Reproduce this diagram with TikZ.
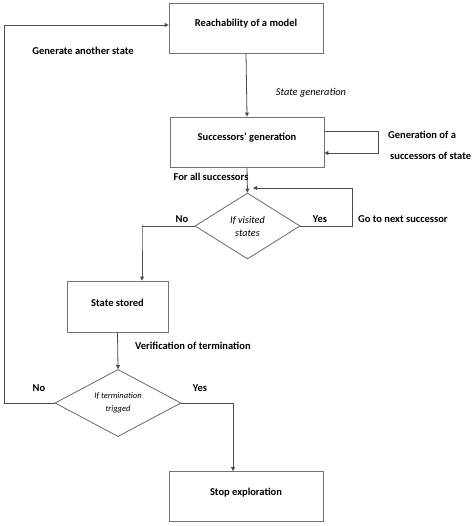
\documentclass[tikz,border=0pt]{standalone}
\usepackage{fontspec}
\setmainfont{Carlito}
\usetikzlibrary{arrows.meta,shapes.geometric}
\begin{document}
\begin{tikzpicture}[x=1pt,y=-1pt,
  font=\fontsize{10.5}{12}\selectfont\bfseries,
  boxnode/.style={draw=black!55,line width=0.8pt,minimum width=154pt,minimum height=50pt,inner sep=0pt},
  dia/.style={diamond,draw=black!65,line width=0.7pt,inner sep=0pt,font=\fontsize{10.2}{13}\selectfont\itshape,align=center},
  conn/.style={draw=black!70,line width=0.8pt},
  arr/.style={conn,-{Triangle[length=4pt,width=4pt]}},
  lbl/.style={inner sep=0pt}]
\useasboundingbox (0,0) rectangle (474,526);
\node[boxnode] (b1) at (246,28) {\raisebox{4pt}[\height][\depth]{Reachability of a model}};
\node[boxnode] (b2) at (247,142) {\raisebox{4pt}[\height][\depth]{Successors’ generation}};
\node[dia,minimum width=105pt,minimum height=66pt] (d1) at (247.5,226) {If visited\\states};
\node[boxnode,minimum width=101pt,minimum height=51pt] (b3) at (117.5,306.5) {\raisebox{4pt}[\height][\depth]{State stored}};
\node[dia,minimum width=126pt,minimum height=60pt,font=\fontsize{8.5}{12.5}\selectfont\itshape] (d2) at (118,403) {If termination\\trigged};
\node[boxnode] (b4) at (246,496.5) {\raisebox{4pt}[\height][\depth]{Stop exploration}};

\coordinate (loopR) at (378,131);
\coordinate (yesR) at (352,188);
\coordinate (noL) at (142,225);
\coordinate (backL) at (4,403);
\coordinate (stopR) at (233,403);

\draw[arr] (b1.south) -- (b2.north);
\draw[arr] ([yshift=11pt]b2.east) -- (loopR) |- ([yshift=-11pt]b2.east);
\draw[arr] (b2.south) -- (d1.north);
\draw[arr] (d1.east) -| (yesR) -- ([xshift=5.5pt]d1.north |- yesR);
\draw[arr] (d1.west) -| (noL) -- (noL |- b3.north);
\draw[arr] (b3.south) -- (d2.north);
\draw[arr] (d2.west) -- (backL) |- ([yshift=3pt]b1.west);
\draw[arr] (d2.east) -- (stopR) -- (stopR |- b4.north);

\node[lbl] (t1) at (83,51) {Generate another state};
\node[lbl,font=\fontsize{10.4}{12}\selectfont\itshape] (t2) at (311,93) {State generation};
\node[lbl,anchor=west] (t3) at (388,135) {Generation of a};
\node[lbl,anchor=west] (t4) at (390,156) {successors of state};
\node[lbl] (t5) at (211,177) {For all successors};
\node[lbl] (t6) at (182,219) {No};
\node[lbl] (t7) at (320,219) {Yes};
\node[lbl,anchor=west] (t8) at (358,219) {Go to next successor};
\node[lbl,anchor=west] (t9) at (135,346) {Verification of termination};
\node[lbl] (t10) at (39,388) {No};
\node[lbl] (t11) at (200,388) {Yes};
\end{tikzpicture}
\end{document}
